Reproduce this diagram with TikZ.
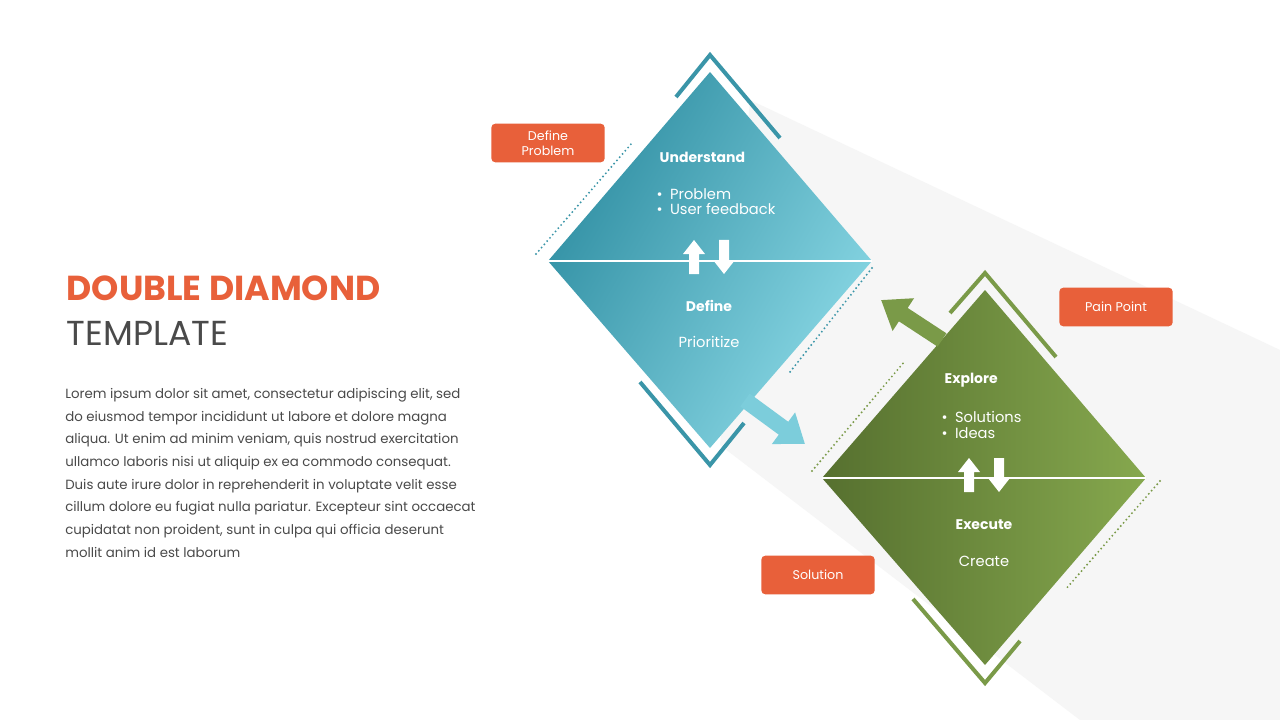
\documentclass[tikz,border=0pt]{standalone}
\usepackage{fontspec}
\setmainfont{Poppins}
\usetikzlibrary{positioning,arrows.meta}
\definecolor{orangered}{HTML}{E8603A}
\definecolor{tealdark}{HTML}{2F8EA2}
\definecolor{teallight}{HTML}{8AD8E5}
\definecolor{tealline}{HTML}{3A95A8}
\definecolor{greendark}{HTML}{56702F}
\definecolor{greenlight}{HTML}{86A84E}
\definecolor{greenline}{HTML}{7A9A48}
\definecolor{bodygray}{HTML}{4A4A4A}
\tikzset{
  tag/.style={fill=orangered,rounded corners=3pt,text=white,font=\fontsize{9.5}{11}\selectfont,
    minimum width=85pt,minimum height=29pt,align=center,inner sep=1pt},
  head/.style={text=white,font=\bfseries\fontsize{10.5}{12}\selectfont},
  item/.style={text=white,font=\fontsize{11}{13.5}\selectfont,align=left},
  chev/.style={line width=3pt},
  dots/.style={line width=1.6pt,dash pattern=on 0pt off 3.2pt,line cap=round},
  bigarrow/.style={line width=12pt,-{Triangle[length=20pt,width=28pt]}},
  updown/.style={white,fill=white}
}
\begin{document}
\begin{tikzpicture}[x=0.75pt,y=-0.75pt]
\useasboundingbox (0,0) rectangle (1280,720);
\fill[white] (0,0) rectangle (1280,720);

% shadow band
\fill[gray!7] (750,100) -- (1280,350) -- (1280,720) -- (1080,720) -- (720,445) -- cycle;

% left text
\node[anchor=west,text=orangered,font=\bfseries\fontsize{26}{30}\selectfont] (title) at (62,288) {DOUBLE DIAMOND};
\node[anchor=west,text=bodygray,font=\fontsize{26}{30}\selectfont] (sub) at (62,333) {TEMPLATE};
\node[anchor=north west,text=bodygray,font=\fontsize{10}{17}\selectfont,align=left,inner sep=0pt] (body) at (65,388)
 {Lorem ipsum dolor sit amet, consectetur adipiscing elit, sed\\
  do eiusmod tempor incididunt ut labore et dolore magna\\
  aliqua. Ut enim ad minim veniam, quis nostrud exercitation\\
  ullamco laboris nisi ut aliquip ex ea commodo consequat.\\
  Duis aute irure dolor in reprehenderit in voluptate velit esse\\
  cillum dolore eu fugiat nulla pariatur. Excepteur sint occaecat\\
  cupidatat non proident, sunt in culpa qui officia deserunt\\
  mollit anim id est laborum};

% first diamond
\coordinate (t1) at (710,72);  \coordinate (l1) at (548,261);
\coordinate (r1) at (872,261); \coordinate (b1) at (710,448);
\shade[left color=tealdark,right color=teallight,shading angle=60] (t1) -- (r1) -- (b1) -- (l1) -- cycle;
\draw[white,line width=1.5pt] (l1) -- (r1);
\draw[tealline,chev] (676,97) -- (710,55) -- (780,138);
\draw[tealline,chev] (640,382) -- (710,465) -- (744,423);
\draw[tealline,dots] (536,254) -- (632,143);
\draw[tealline,dots] (872,268) -- (790,372);

% second diamond
\coordinate (t2) at (985,290);  \coordinate (l2) at (822,478);
\coordinate (r2) at (1146,478); \coordinate (b2) at (985,665);
\shade[left color=greendark,right color=greenlight] (t2) -- (r2) -- (b2) -- (l2) -- cycle;
\draw[white,line width=1.5pt] (l2) -- (r2);
\draw[greenline,chev] (950,313) -- (985,273) -- (1056,357);
\draw[greenline,chev] (913,599) -- (985,683) -- (1020,641);
\draw[greenline,dots] (812,471) -- (905,361);
\draw[greenline,dots] (1160,481) -- (1065,590);

% connecting arrows
\coordinate (a1) at (745,400); \coordinate (a2) at (805,444);
\draw[bigarrow,teallight!85!tealdark] (a1) -- (a2);
\coordinate (g1) at (942,340); \coordinate (g2) at (881,300);
\draw[bigarrow,greenline] (g1) -- (g2);

% texts in diamonds
\node[head,anchor=west] (und) at (655,157) {Understand};
\node[item,anchor=north west] (und list) at (652,184) {•\enspace Problem\\[-2pt]•\enspace User feedback};
\node[head] (def) at (709,306) {Define};
\node[item] (pri) at (709,342) {Prioritize};
\node[head,anchor=west] (exp) at (940,380) {Explore};
\node[item,anchor=north west] (exp list) at (937,407) {•\enspace Solutions\\[-2pt]•\enspace Ideas};
\node[head] (exe) at (984,525) {Execute};
\node[item] (cre) at (984,561) {Create};

% up and down arrows
\foreach \cx/\cy in {710/258, 985/476} {
  \fill[white] (\cx-21,\cy+16) -- (\cx-21,\cy-4) -- (\cx-27,\cy-4) -- (\cx-16,\cy-18) -- (\cx-5,\cy-4) -- (\cx-11,\cy-4) -- (\cx-11,\cy+16) -- cycle;
  \fill[white] (\cx+9,\cy-18) -- (\cx+9,\cy+2) -- (\cx+3,\cy+2) -- (\cx+14,\cy+16) -- (\cx+25,\cy+2) -- (\cx+19,\cy+2) -- (\cx+19,\cy-18) -- cycle;
}

% tags
\node[tag] (defprob) at (548,143) {Define\\Problem};
\node[tag] (pain) at (1116,307) {Pain Point};
\node[tag] (sol) at (818,575) {Solution};
\end{tikzpicture}
\end{document}
